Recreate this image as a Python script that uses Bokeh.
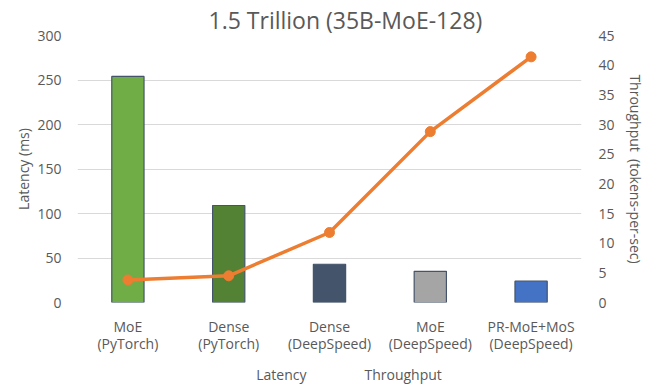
from bokeh.plotting import figure
from bokeh.layouts import column
from bokeh.models import (Range1d, LinearAxis, FixedTicker, ColumnDataSource,
                          Legend, LegendItem, FactorRange, Grid)
from bokeh.core.properties import value
from bokeh.embed import file_html
from bokeh.resources import INLINE

categories = ["MoE (PyTorch)", "Dense (PyTorch)", "Dense (DeepSpeed)",
              "MoE (DeepSpeed)", "PR-MoE+MoS (DeepSpeed)"]
label_line1 = ["MoE", "Dense", "Dense", "MoE", "PR-MoE+MoS"]
label_line2 = ["(PyTorch)", "(PyTorch)", "(DeepSpeed)", "(DeepSpeed)", "(DeepSpeed)"]
latency = [254, 109, 43, 35, 24]
throughput = [3.8, 4.5, 11.8, 28.8, 41.4]
bar_colors = ["#70AD47", "#548235", "#44546A", "#A5A5A5", "#4472C4"]
left_ticks = [0, 50, 100, 150, 200, 250, 300]
right_ticks = [0, 5, 10, 15, 20, 25, 30, 35, 40, 45]
title_text = "1.5 Trillion (35B-MoE-128)"

FONT = "Open Sans"
GRAY = "#595959"

xr = FactorRange(*categories)
xr.range_padding = 0

# ---------- main chart ----------
p = figure(x_range=xr, y_range=Range1d(0, 300), x_axis_location=None,
           frame_width=504, frame_height=267, title=title_text,
           output_backend="svg", toolbar_location=None,
           min_border_left=77, min_border_right=79, min_border_top=35,
           min_border_bottom=10)
p.extra_y_ranges = {"tp": Range1d(0, 45)}
p.center = [c for c in p.center if not (isinstance(c, Grid) and c.dimension == 0)]

p.title.align = "left"
p.title.offset = 131
p.title.standoff = 0
p.title.text_font = FONT
p.title.text_font_size = "23px"
p.title.text_font_style = "normal"
p.title.text_color = GRAY

src = ColumnDataSource(dict(x=categories, lat=latency, tp=throughput, color=bar_colors))
bars = p.vbar(x="x", top="lat", width=0.32, source=src, fill_color="color",
              line_color="#44546A", line_width=1.2)
line = p.line(x="x", y="tp", source=src, y_range_name="tp", line_color="#ED7D31",
              line_width=3.5)
pts = p.scatter(x="x", y="tp", source=src, y_range_name="tp", size=10,
                fill_color="#ED7D31", line_color="#ED7D31")

right = LinearAxis(y_range_name="tp", axis_label="Throughput \u00a0(tokens-per-sec)")
p.add_layout(right, "right")

left = p.yaxis[0]
left.axis_label = "Latency (ms)"
left.ticker = FixedTicker(ticks=left_ticks)
right.ticker = FixedTicker(ticks=right_ticks)

for ax in [left, right]:
    ax.axis_line_color = None
    ax.major_tick_line_color = None
    ax.minor_tick_line_color = None
    ax.major_tick_out = 0
    ax.major_tick_in = 0
    ax.minor_tick_out = 0
    ax.major_label_text_font = FONT
    ax.major_label_text_font_size = "14px"
    ax.major_label_text_color = GRAY
    ax.axis_label_text_font = FONT
    ax.axis_label_text_font_size = "14px"
    ax.axis_label_text_font_style = "normal"
    ax.axis_label_text_color = GRAY

left.major_label_standoff = 16
right.major_label_standoff = 17
left.axis_label_standoff = 1
right.axis_label_standoff = 8

for g in p.center:
    if isinstance(g, Grid):
        g.grid_line_color = "#D9D9D9"
        g.grid_line_width = 1.2
        g.ticker = FixedTicker(ticks=left_ticks)
p.outline_line_color = None

# ---------- category labels + legend strip ----------
q = figure(x_range=xr, y_range=Range1d(0, 76), x_axis_location=None,
           y_axis_location=None, frame_width=504, frame_height=76,
           output_backend="svg", toolbar_location=None,
           min_border_left=77, min_border_right=79, min_border_top=0,
           min_border_bottom=0)
q.center = [c for c in q.center if not isinstance(c, Grid)]
q.outline_line_color = None

lab = ColumnDataSource(dict(x=categories, l1=label_line1, l2=label_line2,
                            y1=[62] * len(categories), y2=[45] * len(categories)))
for col_name, y_name in (("l1", "y1"), ("l2", "y2")):
    q.text(x="x", y=y_name, text=col_name, source=lab, text_align="center",
           text_baseline="middle", text_font=value(FONT), text_font_size="14px",
           text_color=GRAY)

empty = ColumnDataSource(dict(x=[], y=[]))
kb = q.vbar(x="x", top="y", width=0.32, source=empty, fill_color="#4472C4",
            line_color="#44546A", line_width=1)
kl = q.line(x="x", y="y", source=empty, line_color="#ED7D31", line_width=3.5)
kp = q.scatter(x="x", y="y", source=empty, size=10, fill_color="#ED7D31",
               line_color="#ED7D31")

legend = Legend(items=[LegendItem(label="Latency", renderers=[kb]),
                       LegendItem(label="Throughput", renderers=[kl, kp])],
                orientation="horizontal", location="bottom_center",
                label_text_font=FONT, label_text_font_size="14px",
                label_text_color=GRAY, border_line_color=None,
                background_fill_alpha=0, label_height=20,
                glyph_width=35, glyph_height=10, spacing=18, padding=0, margin=4,
                label_standoff=5)
q.add_layout(legend, "center")

layout = column(p, q, spacing=0)
open("out.html", "w").write(file_html(layout, INLINE))
